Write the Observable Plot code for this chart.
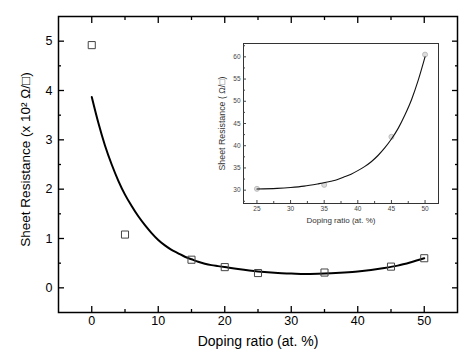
<!DOCTYPE html>
<html>
<head>
<meta charset="utf-8">
<script src="https://cdn.jsdelivr.net/npm/d3@7"></script>
<script src="https://cdn.jsdelivr.net/npm/@observablehq/plot@0.6"></script>
<style>
  body { margin: 0; background: #fff; }
  #wrap { position: relative; width: 474px; height: 364px; }
  #wrap svg { position: absolute; }
</style>
</head>
<body>
<div id="wrap"></div>
<script>
// Main chart data
const dopingX = [0, 5, 15, 20, 25, 35, 45, 50];
const sheetR = [4.92, 1.08, 0.57, 0.42, 0.30, 0.31, 0.43, 0.60];
const fitX = [0, 1, 2, 3, 4, 5, 6, 7, 8, 9, 10, 11, 12, 13, 14, 15, 16, 17, 18, 19, 20, 22, 25, 28, 30, 32, 34, 36, 38, 40, 42, 44, 46, 48, 50];
const fitY = [3.87, 3.34, 2.88, 2.50, 2.17, 1.89, 1.66, 1.45, 1.27, 1.11, 0.97, 0.86, 0.77, 0.70, 0.63, 0.58, 0.53, 0.49, 0.46, 0.44, 0.42, 0.38, 0.33, 0.30, 0.29, 0.28, 0.285, 0.295, 0.31, 0.33, 0.36, 0.40, 0.45, 0.52, 0.60];
const xMajor = [0, 10, 20, 30, 40, 50];
const xMinor = [5, 15, 25, 35, 45];
const yMajor = [0, 1, 2, 3, 4, 5];
const yMinor = [0.5, 1.5, 2.5, 3.5, 4.5];

// Inset data
const insetX = [25, 35, 45, 50];
const insetY = [30.3, 31.2, 42.0, 60.5];
const insetFitX = [25, 28, 30, 32, 34, 36, 37, 38, 39, 40, 41, 42, 43, 44, 45, 46, 47, 48, 49, 50];
const insetFitY = [30.25, 30.4, 30.6, 30.9, 31.4, 32.0, 32.4, 33.0, 33.6, 34.4, 35.3, 36.4, 37.8, 39.5, 41.5, 43.9, 46.9, 50.4, 54.8, 60.0];
const insetXTicks = [25, 30, 35, 40, 45, 50];
const insetXMinor = [27.5, 32.5, 37.5, 42.5, 47.5];
const insetYTicks = [30, 35, 40, 45, 50, 55, 60];
const insetYMinor = [27.5, 32.5, 37.5, 42.5, 47.5, 52.5, 57.5, 62.5];

const font = "Liberation Sans, Arial, sans-serif";
const main = dopingX.map((x, i) => ({x, y: sheetR[i]}));
const fit = fitX.map((x, i) => ({x, y: fitY[i]}));
const ins = insetX.map((x, i) => ({x, y: insetY[i]}));
const insFit = insetFitX.map((x, i) => ({x, y: insetFitY[i]}));

const mainPlot = Plot.plot({
  width: 474, height: 364,
  marginLeft: 58, marginRight: 17, marginTop: 16, marginBottom: 52,
  style: {fontFamily: font, fontSize: "12.5px", color: "#000", background: "#fff"},
  x: {domain: [-5, 55]},
  y: {domain: [-0.5, 5.5]},
  marks: [
    Plot.frame({stroke: "#000", strokeWidth: 1.5}),
    Plot.axisX(xMajor, {anchor: "bottom", tickSize: -6, tickPadding: 10, label: null, strokeWidth: 1.3}),
    Plot.axisX(xMinor, {anchor: "bottom", tickSize: -3, tickFormat: () => "", label: null, strokeWidth: 1.3}),
    Plot.axisX(xMajor, {anchor: "top", tickSize: -6, tickFormat: () => "", label: null, strokeWidth: 1.3}),
    Plot.axisX(xMinor, {anchor: "top", tickSize: -3, tickFormat: () => "", label: null, strokeWidth: 1.3}),
    Plot.axisY(yMajor, {anchor: "left", tickSize: -6, tickPadding: 12, label: null, strokeWidth: 1.3}),
    Plot.axisY(yMinor, {anchor: "left", tickSize: -3, tickFormat: () => "", label: null, strokeWidth: 1.3}),
    Plot.axisY(yMajor, {anchor: "right", tickSize: -6, tickFormat: () => "", label: null, strokeWidth: 1.3}),
    Plot.axisY(yMinor, {anchor: "right", tickSize: -3, tickFormat: () => "", label: null, strokeWidth: 1.3}),
    Plot.line(fit, {x: "x", y: "y", curve: "monotone-x", stroke: "#000", strokeWidth: 2}),
    Plot.dot(main, {x: "x", y: "y", symbol: "square", r: 4, stroke: "#444", strokeWidth: 1, fill: "none"}),
    Plot.text(["Doping ratio (at. %)"], {frameAnchor: "bottom", textAnchor: "middle", dy: 33, fontSize: 14, fill: "#000"}),
    Plot.text(["Sheet Resistance (x 10² Ω/□)"], {frameAnchor: "left", textAnchor: "middle", dx: -33, dy: -5, rotate: -90, fontSize: 13.5, fill: "#000"})
  ]
});
mainPlot.style.left = "0px";
mainPlot.style.top = "0px";

const inset = Plot.plot({
  width: 250, height: 200,
  marginLeft: 43, marginRight: 12, marginTop: 13, marginBottom: 27,
  style: {fontFamily: font, fontSize: "6.5px", color: "#444", background: "transparent"},
  x: {domain: [23, 52]},
  y: {domain: [27, 63]},
  marks: [
    Plot.frame({fill: "#fff", stroke: "#333", strokeWidth: 1}),
    Plot.axisX(insetXTicks, {anchor: "bottom", tickSize: -3, tickPadding: 6, label: null}),
    Plot.axisX(insetXMinor, {anchor: "bottom", tickSize: -2, tickFormat: () => "", label: null}),
    Plot.axisY(insetYTicks, {anchor: "left", tickSize: -3, tickPadding: 6, label: null}),
    Plot.axisY(insetYMinor, {anchor: "left", tickSize: -2, tickFormat: () => "", label: null}),
    Plot.dot(ins, {x: "x", y: "y", r: 2.5, fill: "#ddd", stroke: "#bbb", strokeWidth: 1}),
    Plot.line(insFit, {x: "x", y: "y", curve: "monotone-x", stroke: "#111", strokeWidth: 1.1}),
    Plot.text(["Doping ratio (at. %)"], {frameAnchor: "bottom", textAnchor: "middle", dy: 19, fontSize: 8, fill: "#333"}),
    Plot.text(["Sheet Resistance ( Ω/□)"], {frameAnchor: "left", textAnchor: "middle", dx: -21, rotate: -90, fontSize: 8.8, fill: "#333"})
  ]
});
inset.style.left = "200px";
inset.style.top = "30px";

const wrap = document.getElementById("wrap");
wrap.appendChild(mainPlot);
wrap.appendChild(inset);
</script>
</body>
</html>
